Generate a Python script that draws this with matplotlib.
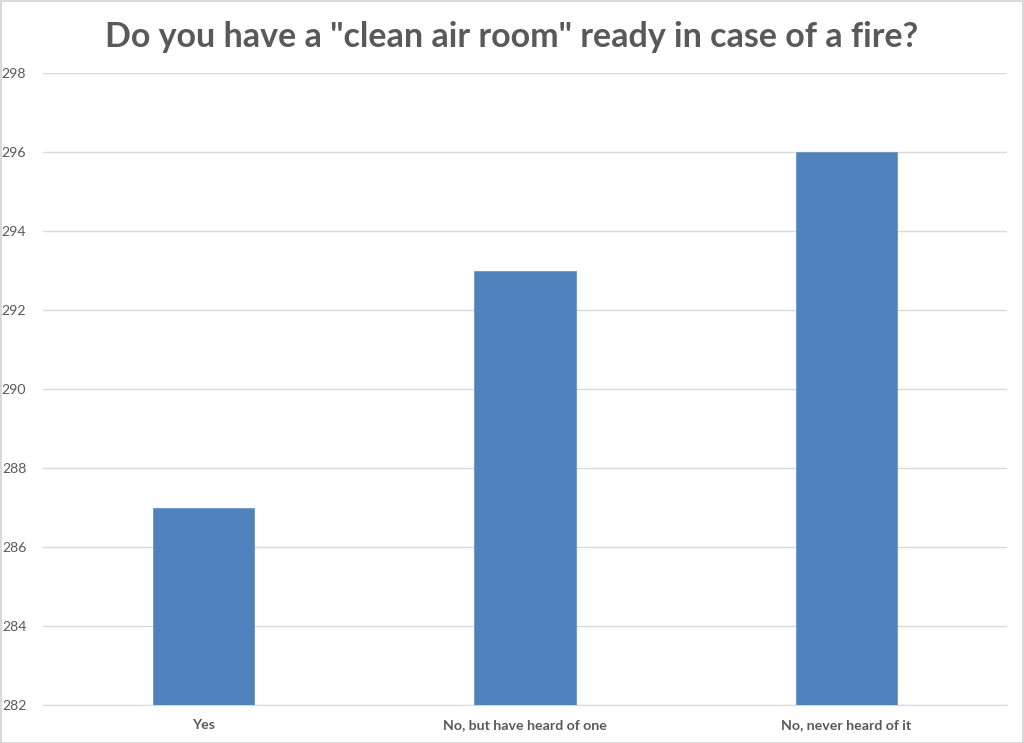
import matplotlib
matplotlib.use("Agg")
import matplotlib.pyplot as plt
from matplotlib.patches import Rectangle

categories = ["Yes", "No, but have heard of one", "No, never heard of it"]
values = [287, 293, 296]
yticks = [282, 284, 286, 288, 290, 292, 294, 296, 298]
title = 'Do you have a "clean air room" ready in case of a fire?'

plt.rcParams['font.family'] = ['Lato', 'DejaVu Sans']
W, H = 1024, 743
fig = plt.figure(figsize=(W/100, H/100), dpi=100)
ax = fig.add_axes([43/W, 1 - 705/H, (1007-43)/W, (705-73)/H])

x = list(range(len(categories)))
ax.bar(x, [v - 282 for v in values], bottom=282, width=0.315,
       color='#4F81BD', edgecolor='#6B95C9', linewidth=0.6, zorder=3)
ax.set_xlim(-0.5, len(categories) - 0.5)
ax.set_ylim(282, 298)
ax.set_yticks(yticks)
ax.set_yticklabels([str(t) for t in yticks])
ax.set_xticks(x)
ax.set_xticklabels(categories, fontweight='bold')
ax.grid(axis='y', color='#D9D9D9', linewidth=1, zorder=0)
for s in ['top', 'right', 'left']:
    ax.spines[s].set_visible(False)
ax.spines['bottom'].set_color('#D9D9D9')
ax.tick_params(axis='both', length=0, colors='#595959', labelsize=10.2)
ax.tick_params(axis='y', pad=12)
ax.tick_params(axis='x', pad=10)

fig.text(0.5, 1 - 37/H, title, ha='center', va='center', fontsize=24.5,
         fontweight='bold', color='#595959')

fig.patches.append(Rectangle((0.5/W, 0.5/H), (W-1.5)/W, (H-1.5)/H, transform=fig.transFigure,
                             fill=False, edgecolor='#D9D9D9', linewidth=1.5))
fig.savefig('out.png', dpi=100)
